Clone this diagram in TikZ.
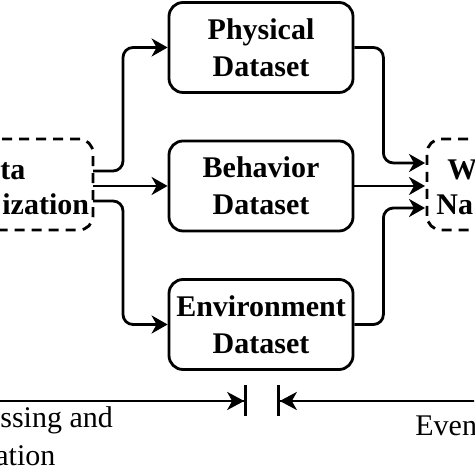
\documentclass[tikz,border=0pt]{standalone}
\usepackage{fontspec}
\setmainfont{Liberation Serif}
\usetikzlibrary{arrows.meta}
\tikzset{
	dataset/.style={draw,line width=1.4pt,rounded corners=7pt,minimum width=92pt,minimum height=45pt,align=center,font=\fontsize{15}{18.5}\selectfont\bfseries,inner sep=0pt},
	dashbox/.style={draw,line width=1.4pt,dash pattern=on 5pt off 3.5pt,rounded corners=7pt},
	link/.style={line width=1.4pt,rounded corners=5pt,-{Stealth[length=8pt,width=9pt,inset=2.5pt]}},
	stage/.style={line width=1.4pt,-{Stealth[length=8.5pt,width=9pt,inset=2.5pt]Bar[width=15.5pt,line width=1.4pt]}},
	boldtxt/.style={inner sep=0pt,anchor=base west,font=\fontsize{15}{18.5}\selectfont\bfseries},
	plaintxt/.style={inner sep=0pt,anchor=base west,font=\fontsize{15}{18.5}\selectfont}
}
\begin{document}
\begin{tikzpicture}[x=0.5pt,y=0.5pt]
	\useasboundingbox (0,0) rectangle (474,474);
	\clip (0,0) rectangle (474,474);
	
	%dashed end boxes (cut by the border)
	\draw[dashbox] (-80,244) rectangle (93,335);		%left box
	\draw[dashbox] (427,244) rectangle (560,335);		%right box
	\node[boldtxt] (lefttop) at (0,294)  {ta};
	\node[boldtxt] (leftbot) at (2,259)  {ization};
	\node[boldtxt] (righttop) at (447,294) {W};
	\node[boldtxt] (rightbot) at (436,259) {Na};
	
	%datasets
	\node[dataset] (phys) at (261,426.5) {Physical\\Dataset};
	\node[dataset] (beh)  at (261,288)   {Behavior\\Dataset};
	\node[dataset] (env)  at (261,149.5) {Environment\\Dataset};
	
	%connector ends on the dashed boxes
	\coordinate (lt) at (93,303);
	\coordinate (lm) at (93,288);
	\coordinate (lb) at (93,273);
	\coordinate (rt) at (425,311);
	\coordinate (rm) at (425,288);
	\coordinate (rb) at (425,266);
	
	%fan out
	\draw[link] (lt) -- ++(30,0) |- (phys.west);
	\draw[link] (lm) -- (beh.west);
	\draw[link] (lb) -- ++(30,0) |- (env.west);
	%fan in
	\draw[link] (phys.east) -- ++(29,0) |- (rt);
	\draw[link] (beh.east) -- (rm);
	\draw[link] (env.east) -- ++(29,0) |- (rb);
	
	%stage arrows at the bottom
	\coordinate (stl) at (-10,73);
	\coordinate (barl) at (247,73);
	\coordinate (str) at (484,73);
	\coordinate (barr) at (277,73);
	\draw[stage] (stl) -- (barl);
	\draw[stage] (str) -- (barr);
	\node[plaintxt] (procA) at (0,46)  {ssing and};
	\node[plaintxt] (procB) at (-5,9)  {ation};
	\node[plaintxt] (evt)   at (415,38) {Even};
	
	%\draw[help lines] (0,0) grid (474,474);
\end{tikzpicture}
\end{document}
